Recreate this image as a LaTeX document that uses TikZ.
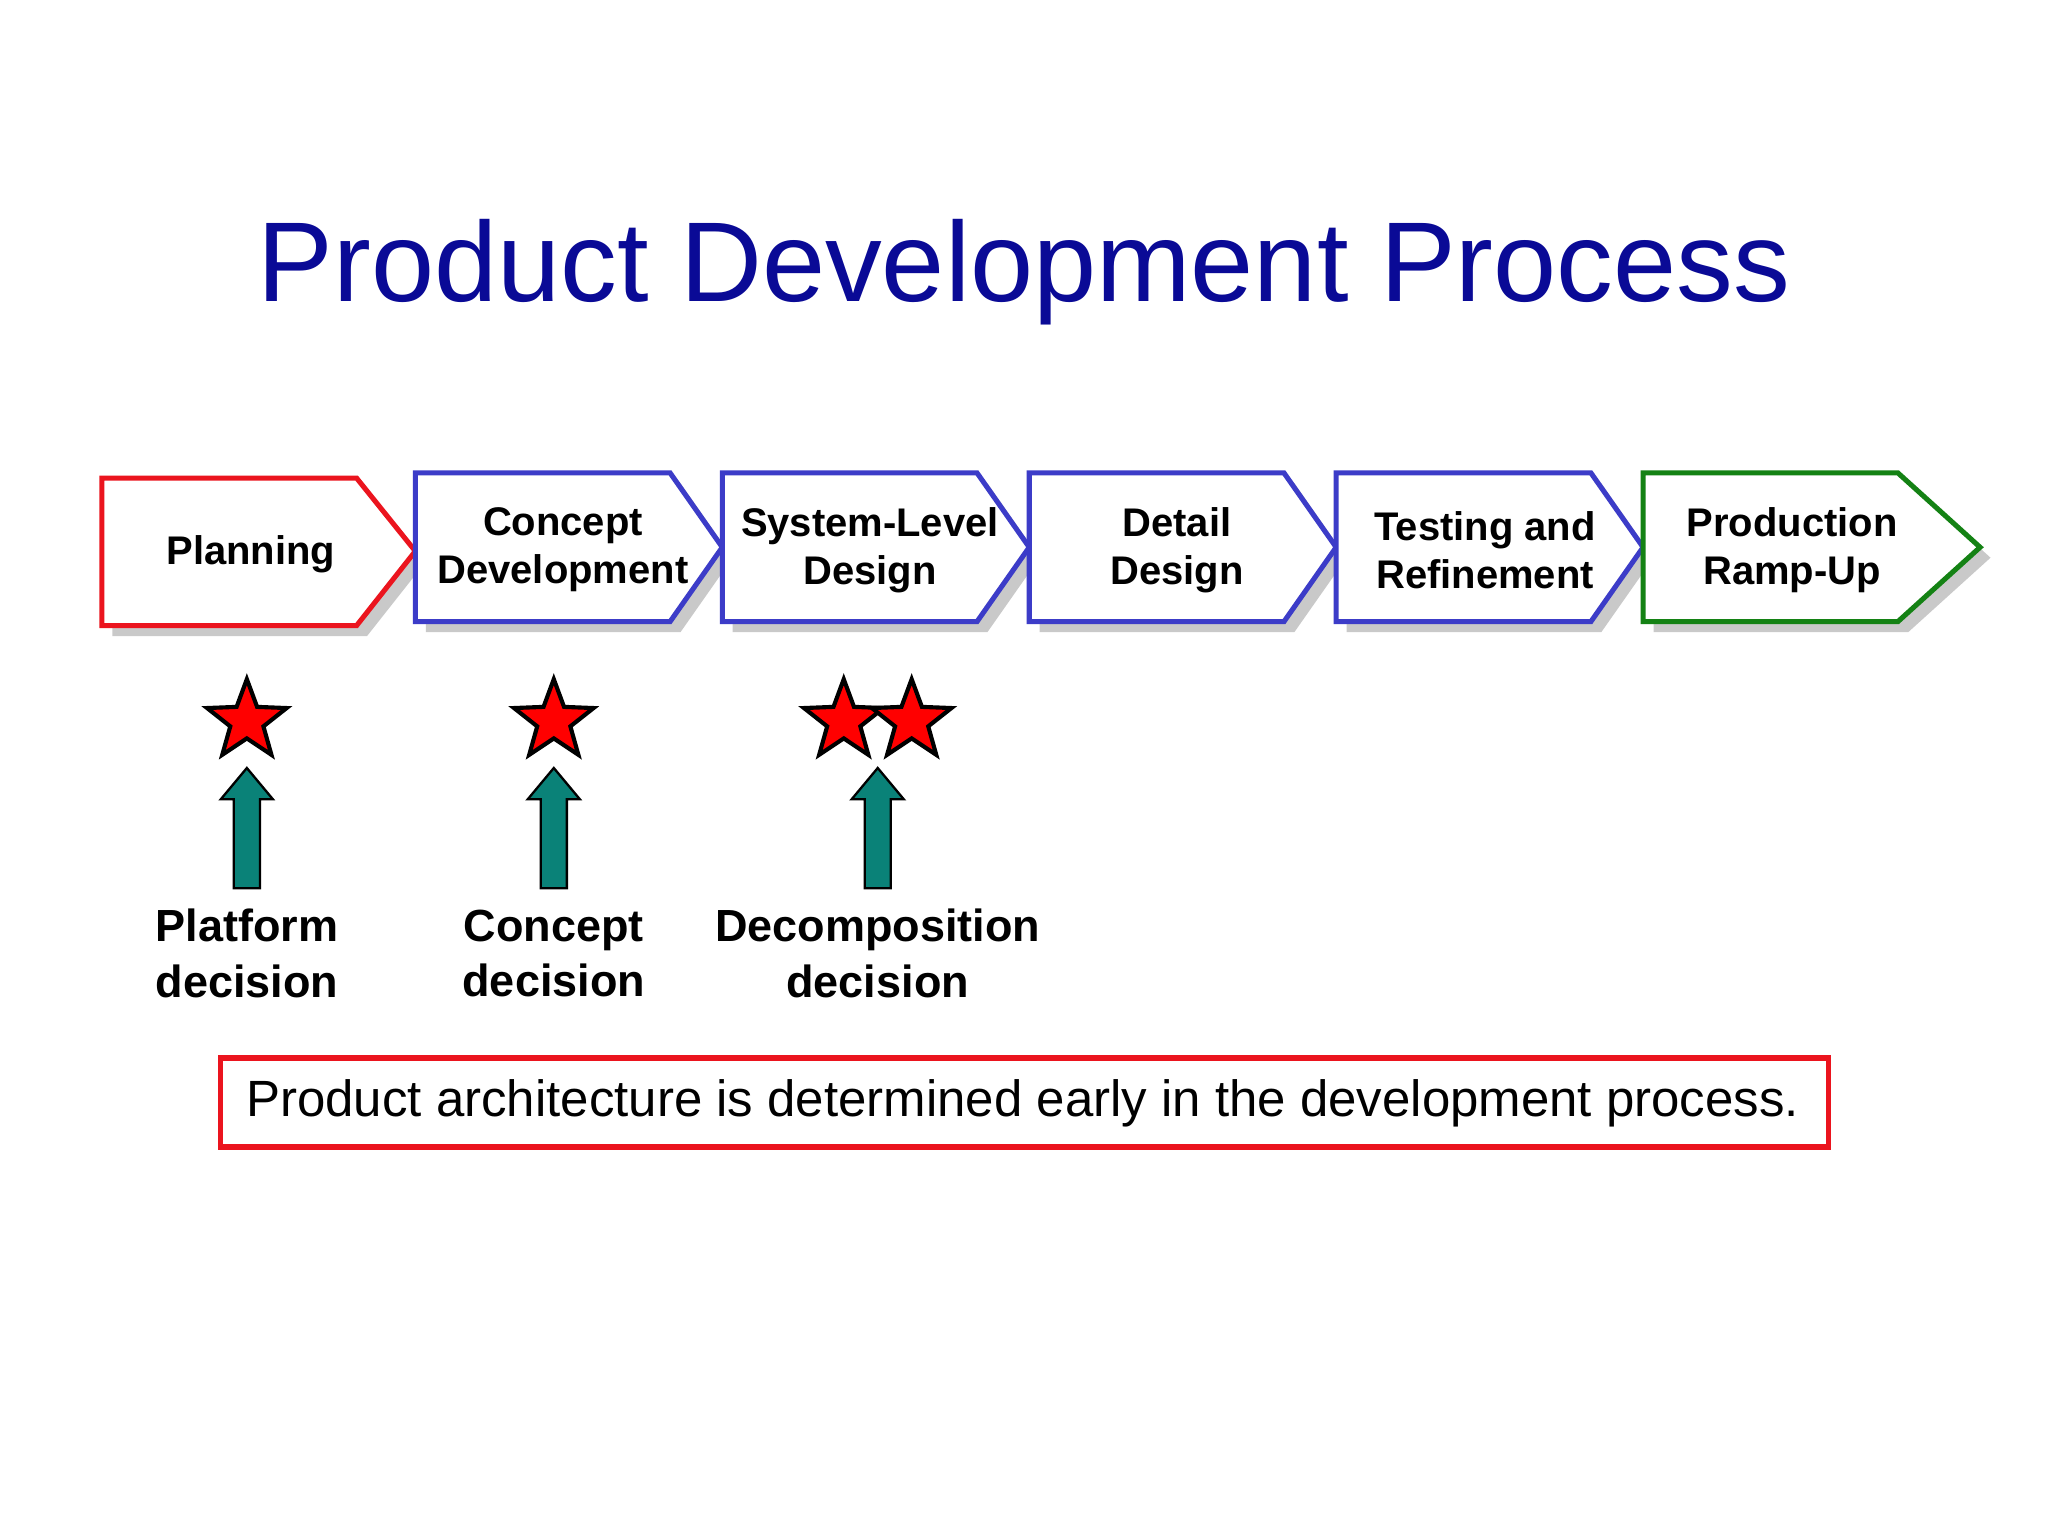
\documentclass[tikz,border=0pt]{standalone}
\usepackage{fontspec}
\setmainfont{Liberation Sans}
\usetikzlibrary{shapes.geometric}
\definecolor{ttl}{RGB}{10,10,150}
\definecolor{bblue}{RGB}{60,60,200}
\definecolor{bred}{RGB}{235,20,30}
\definecolor{bgreen}{RGB}{20,130,20}
\definecolor{teal2}{RGB}{10,130,120}
\begin{document}
\begin{tikzpicture}[x=0.01cm,y=-0.01cm,
  stage/.style={line width=1.1pt,fill=white,line join=miter},
  shad/.style={fill=black!35,opacity=0.6},
  lbl/.style={font=\fontsize{8.7pt}{10.5pt}\selectfont\bfseries,align=center},
  lbl2/.style={font=\fontsize{9.8pt}{12pt}\selectfont\bfseries,align=center},
  st/.style={star,star points=5,star point ratio=2.4,minimum size=0.64cm,inner sep=0pt,fill=red,draw=black,line width=0.9pt},
  up/.style={fill=teal2,draw=black,line width=0.5pt}]
\useasboundingbox (0,0) rectangle (1568,1176);
\fill[white] (0,0) rectangle (1568,1176);
\node[text=ttl,font=\fontsize{24.7pt}{30pt}\selectfont] (title) at (784,208) {Product Development Process};
% shadows
\foreach \a/\t in {318/513,553/748,788/983,1023/1218}
  \fill[shad] (\a+8,370) -- (\t+8,370) -- (\t+48,427) -- (\t+8,484) -- (\a+8,484) -- cycle;
\fill[shad] (86,374) -- (281,374) -- (326,430) -- (281,487) -- (86,487) -- cycle;
\fill[shad] (1266,370) -- (1461,370) -- (1524,427) -- (1461,484) -- (1266,484) -- cycle;
% stages
\draw[stage,draw=bred] (78,366) -- (273,366) -- (318,422) -- (273,479) -- (78,479) -- cycle;
\foreach \a/\t in {318/513,553/748,788/983,1023/1218}
  \draw[stage,draw=bblue] (\a,362) -- (\t,362) -- (\t+40,419) -- (\t,476) -- (\a,476) -- cycle;
\draw[stage,draw=bgreen] (1258,362) -- (1453,362) -- (1516,419) -- (1453,476) -- (1258,476) -- cycle;
\node[lbl] (p1) at (192,424) {Planning};
\node[lbl] (p2) at (431,421) {Concept\\Development};
\node[lbl] (p3) at (666,421) {System-Level\\Design};
\node[lbl] (p4) at (901,421) {Detail\\Design};
\node[lbl] (p5) at (1137,421) {Testing and\\Refinement};
\node[lbl] (p6) at (1372,421) {Production\\Ramp-Up};
% stars
\node[st] (s1) at (189,552) {};
\node[st] (s2) at (424,552) {};
\node[st] (s3) at (646,552) {};
\node[st] (s4) at (698,552) {};
% arrows
\foreach \c in {189,424,672}
  \draw[up] (\c-10,680) -- (\c-10,612) -- (\c-20,612) -- (\c,588) -- (\c+20,612) -- (\c+10,612) -- (\c+10,680) -- cycle;
\node[lbl2] (d1) at (189,730) {Platform\\decision};
\node[lbl2] (d2) at (424,730) {Concept\\decision};
\node[lbl2] (d3) at (672,730) {Decomposition\\decision};
\draw[draw=bred,line width=1.2pt] (169,810) rectangle (1400,878);
\node[font=\fontsize{11.1pt}{13pt}\selectfont] (note) at (783,845) {Product architecture is determined early in the development process.};
\end{tikzpicture}
\end{document}
